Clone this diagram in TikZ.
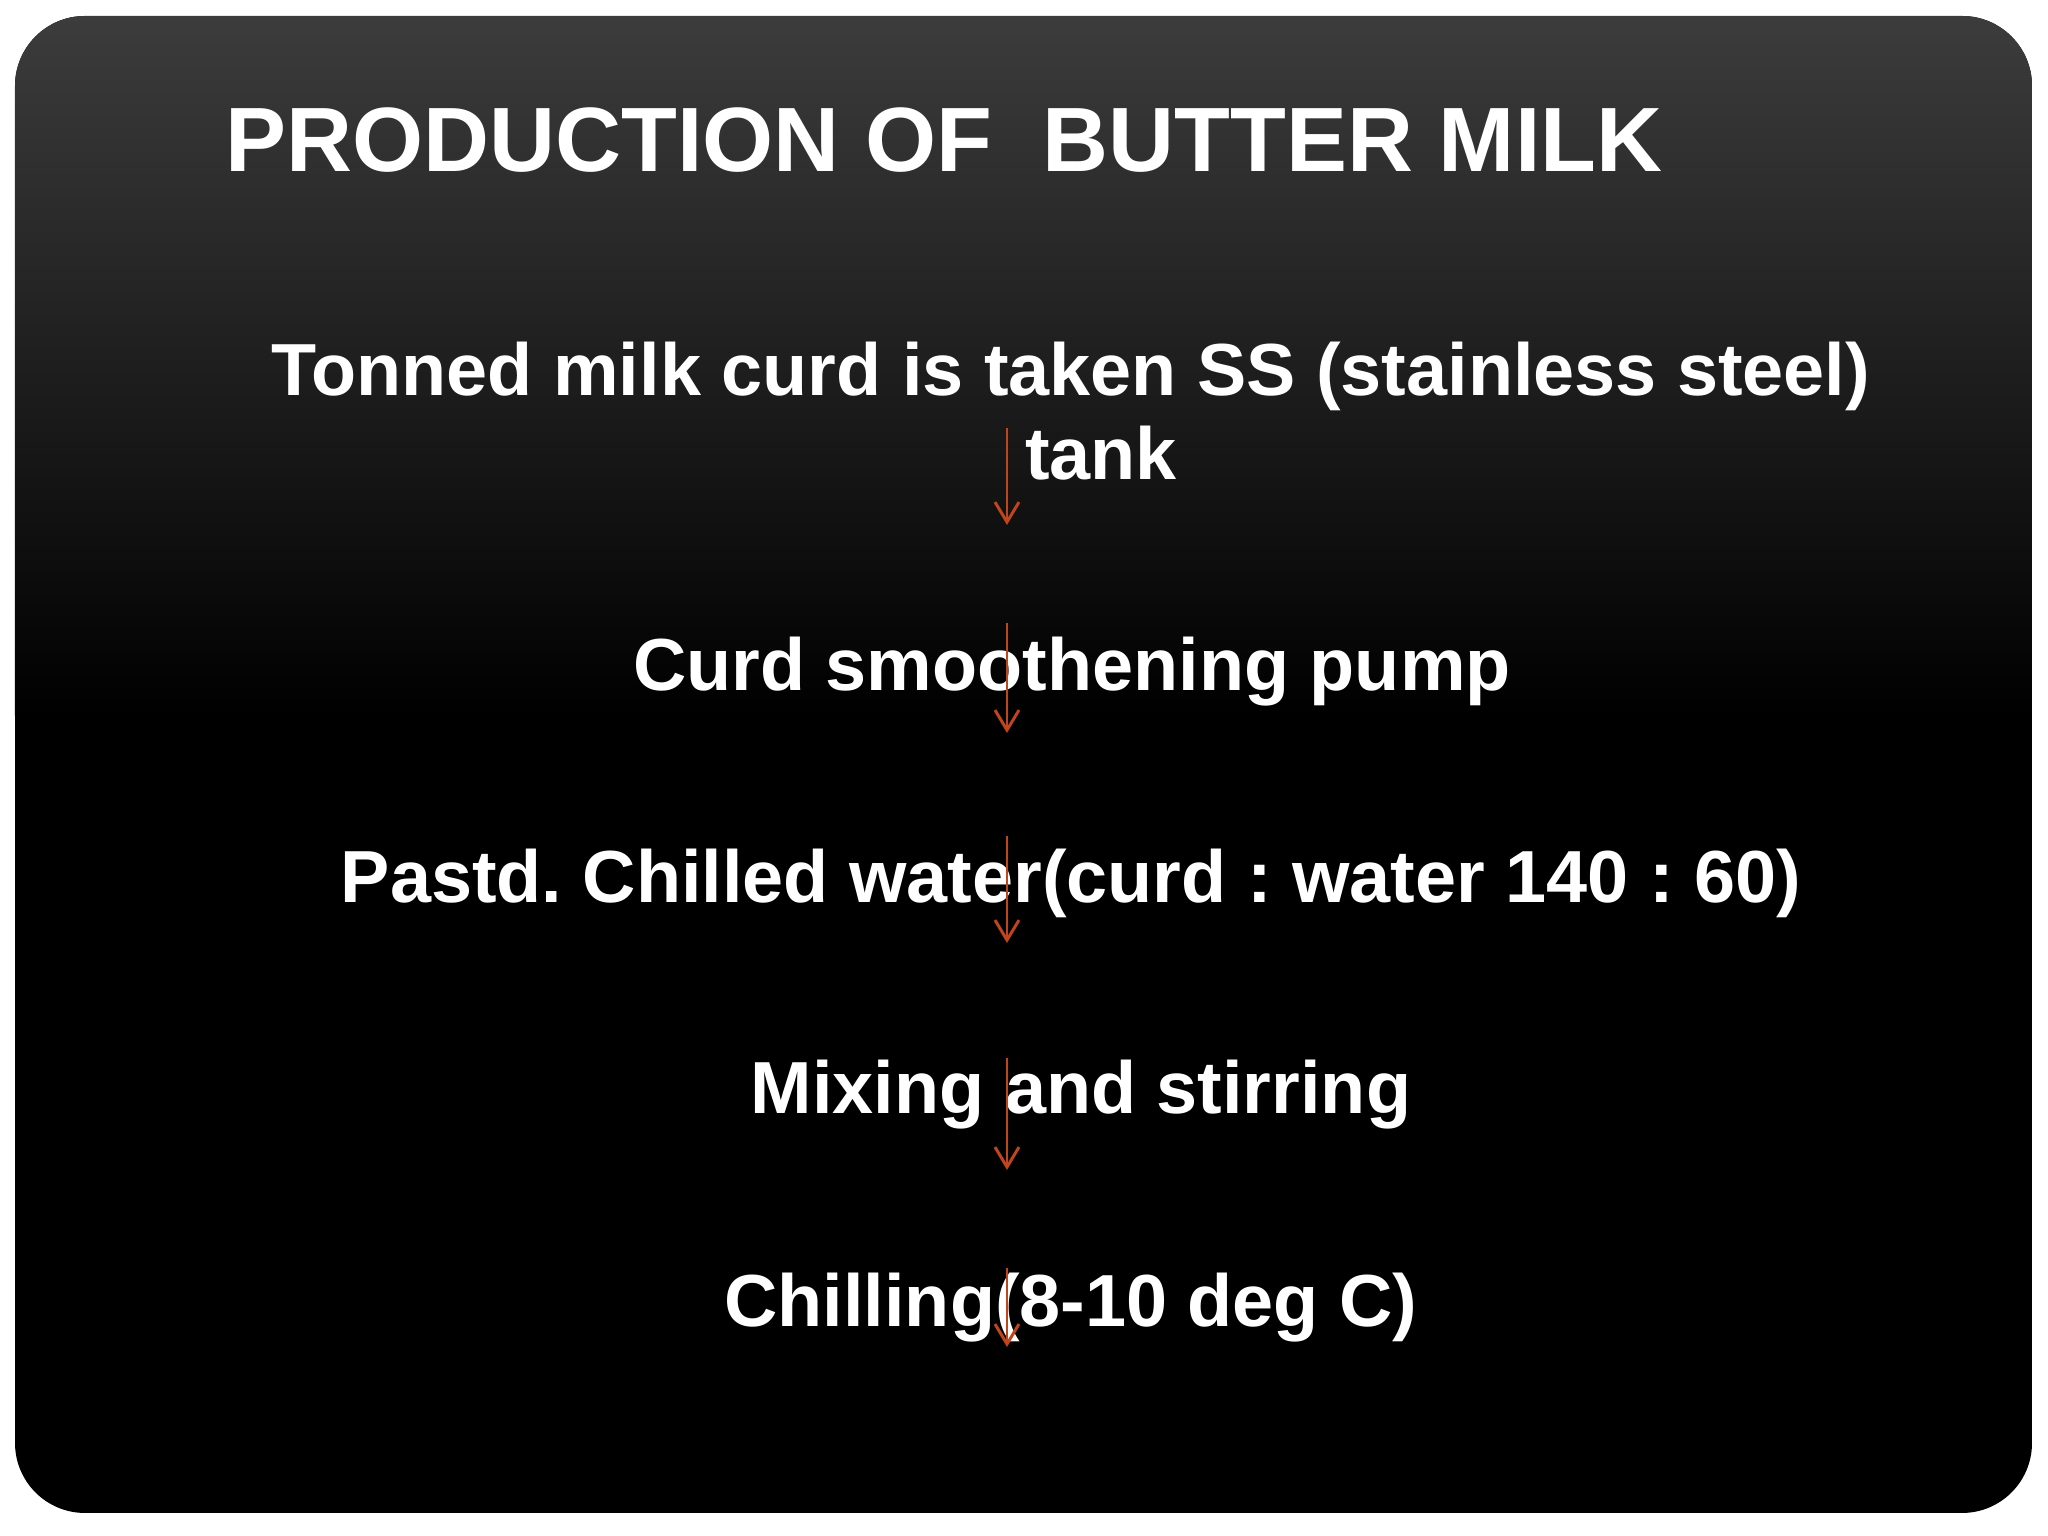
\documentclass[tikz,border=0pt]{standalone}
\usepackage{fontspec}
\setmainfont{Liberation Sans}
\usepackage{xcolor}
\usetikzlibrary{arrows.meta,positioning,calc}
\definecolor{slidetop}{RGB}{60,60,60}
\definecolor{flowred}{RGB}{192,68,28}
\frenchspacing

\begin{document}
\begin{tikzpicture}[
    step text/.style={text=white, font=\bfseries\fontsize{21}{24}\selectfont, anchor=base, align=center},
    flow/.style={draw=flowred, line width=0.85pt, -{Straight Barb[length=0.2cm, width=0.24cm]}}]
    \useasboundingbox (0,0) rectangle (20.48,15.36);
    % slide background
    \begin{scope}
        \clip[rounded corners=0.7cm] (0.15,0.23) rectangle (20.32,15.20);
        \fill[black] (0.15,0.23) rectangle (20.32,15.20);
        \shade[top color=slidetop, bottom color=black] (0.15,8.2) rectangle (20.32,15.20);
    \end{scope}
    % title
    \node [anchor=base west, inner sep=0pt, text=white, font=\bfseries\fontsize{26}{30}\selectfont] (title) at (2.25,13.64) {PRODUCTION OF\ \ BUTTER MILK};
    % steps
    \node [step text] (tonned) at (10.71,10.56) {Tonned milk curd is taken SS (stainless steel)\\ \hspace*{0.6cm}tank};
    \node [step text] (pump) at (10.72,8.45) {Curd smoothening pump};
    \node [step text] (water) at (10.71,6.33) {Pastd. Chilled water(curd : water 140 : 60)};
    \node [step text] (mixing) at (10.81,4.22) {Mixing and stirring};
    \node [step text] (chilling) at (10.71,2.09) {Chilling(8-10 deg C)};
    % arrows
    \coordinate (a1) at (10.07,11.08);
    \coordinate (b1) at (10.07,10.11);
    \coordinate (a2) at (10.07,9.13);
    \coordinate (b2) at (10.07,8.03);
    \coordinate (a3) at (10.07,7.00);
    \coordinate (b3) at (10.07,5.93);
    \coordinate (a4) at (10.07,4.78);
    \coordinate (b4) at (10.07,3.66);
    \coordinate (a5) at (10.07,2.68);
    \coordinate (b5) at (10.07,1.89);
    \draw [flow] (a1) -- (b1);
    \draw [flow] (a2) -- (b2);
    \draw [flow] (a3) -- (b3);
    \draw [flow] (a4) -- (b4);
    \draw [flow] (a5) -- (b5);
\end{tikzpicture}
\end{document}
